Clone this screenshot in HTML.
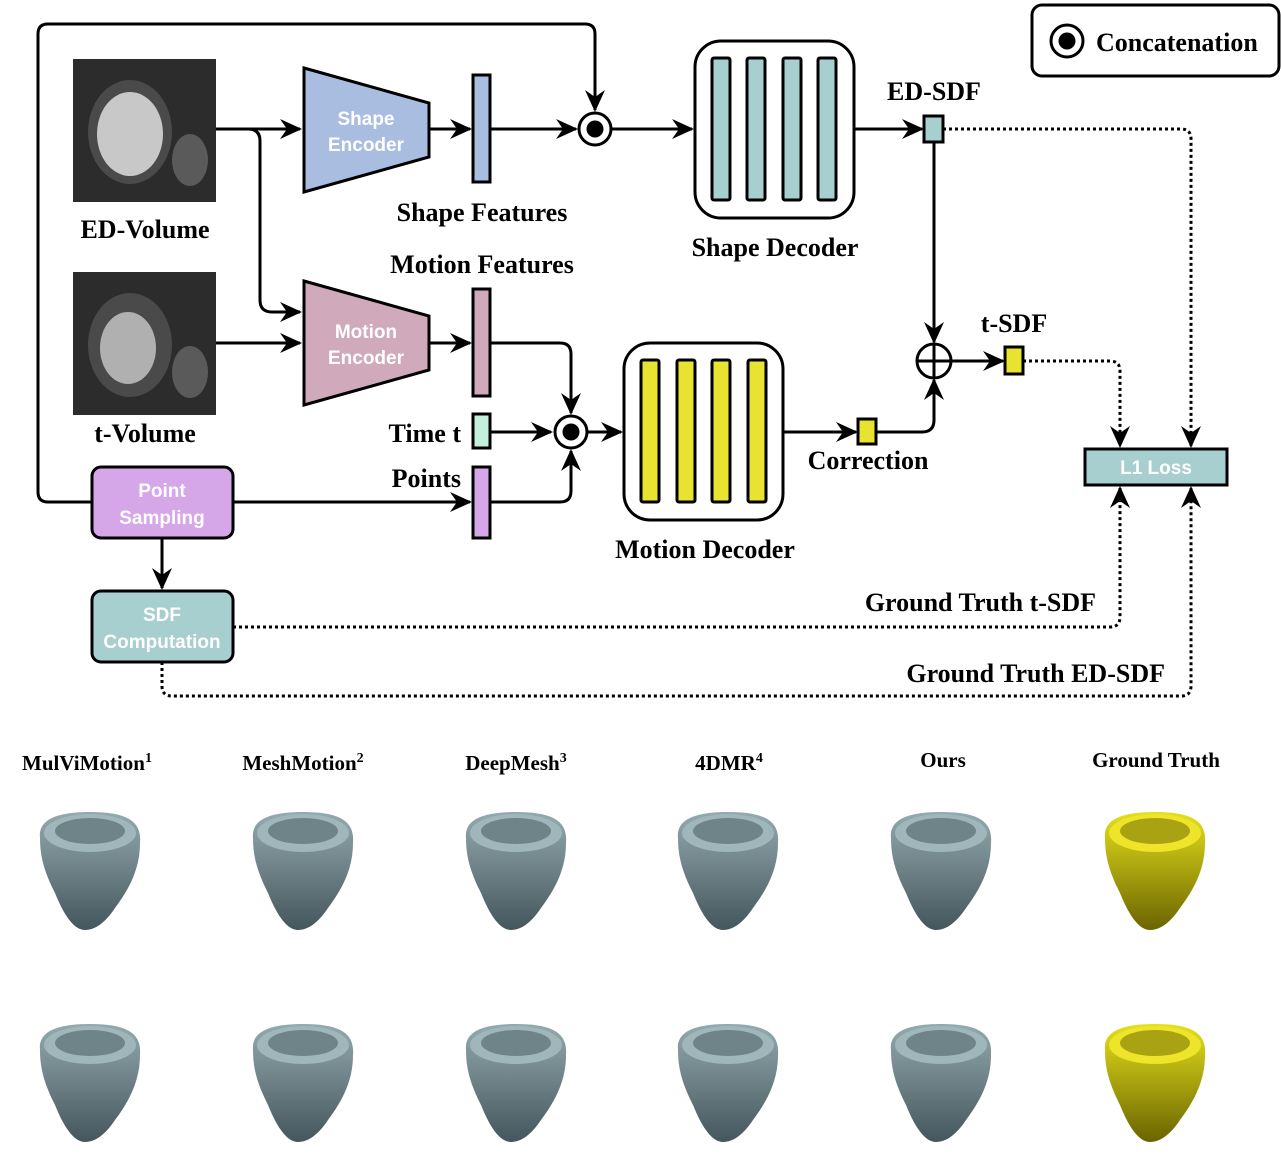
<!DOCTYPE html>
<html><head><meta charset="utf-8"><style>
html,body{margin:0;padding:0;background:#fff;}
svg{display:block;}
.lb{font-family:"Liberation Serif",serif;font-weight:bold;fill:#000;}
.wt{font-family:"Liberation Sans",sans-serif;font-weight:bold;fill:#fff;font-size:19px;}
</style></head><body>
<svg width="1281" height="1165" viewBox="0 0 1281 1165" xmlns="http://www.w3.org/2000/svg">
<defs>
<marker id="a2" markerWidth="22" markerHeight="22" refX="20" refY="11" orient="auto" markerUnits="userSpaceOnUse" viewBox="0 0 22 22">
<path d="M0,1 L22,11 L0,21 L7,11 Z" fill="#000"/></marker>
<linearGradient id="gg" x1="0" y1="0" x2="0" y2="1"><stop offset="0" stop-color="#93aaae"/><stop offset="1" stop-color="#45565d"/></linearGradient>
<linearGradient id="gy" x1="0" y1="0" x2="0" y2="1"><stop offset="0" stop-color="#e5e01c"/><stop offset="1" stop-color="#6a6400"/></linearGradient>
<g id="heart">
<path d="M-50,-30 C-52,-50 -30,-56 0,-56 C35,-56 52,-48 50,-25 C50,0 40,20 25,40 C15,55 5,62 -5,62 C-15,62 -25,50 -35,25 C-45,5 -50,-10 -50,-30 Z"/>
</g>
</defs>

<rect x="73" y="59" width="143" height="143" fill="#2c2c2c"/>
<ellipse cx="130" cy="132" rx="42" ry="52" fill="#4a4a4a"/>
<ellipse cx="130" cy="134" rx="33" ry="42" fill="#c8c8c8"/>
<ellipse cx="190" cy="160" rx="18" ry="26" fill="#5a5a5a"/>
<rect x="73" y="272" width="143" height="143" fill="#2c2c2c"/>
<ellipse cx="130" cy="345" rx="42" ry="52" fill="#4a4a4a"/>
<ellipse cx="128" cy="348" rx="28" ry="36" fill="#b0b0b0"/>
<ellipse cx="190" cy="372" rx="18" ry="26" fill="#5a5a5a"/>

<g stroke="#000" stroke-width="3" fill="none">
<path d="M92,502 H48 Q38,502 38,492 V34 Q38,24 48,24 H585 Q595,24 595,34 V110" marker-end="url(#a2)"/>
<path d="M216,129 H300" marker-end="url(#a2)"/>
<path d="M248,129 Q260,129 260,141 V300 Q260,312 272,312 H300" marker-end="url(#a2)"/>
<path d="M216,343 H300" marker-end="url(#a2)"/>
<path d="M429,129 H470" marker-end="url(#a2)"/>
<path d="M490,129 H576" marker-end="url(#a2)"/>
<path d="M612,129 H692" marker-end="url(#a2)"/>
<path d="M854,129 H922" marker-end="url(#a2)"/>
<path d="M934,142 V342" marker-end="url(#a2)"/>
<path d="M951,361 H1003" marker-end="url(#a2)"/>
<path d="M429,343 H470" marker-end="url(#a2)"/>
<path d="M490,343 H560 Q571,343 571,354 V413" marker-end="url(#a2)"/>
<path d="M490,432 H551" marker-end="url(#a2)"/>
<path d="M233,502 H470" marker-end="url(#a2)"/>
<path d="M490,502 H560 Q571,502 571,491 V451" marker-end="url(#a2)"/>
<path d="M588,432 H621" marker-end="url(#a2)"/>
<path d="M783,432 H856" marker-end="url(#a2)"/>
<path d="M876,432 H922 Q934,432 934,420 V380" marker-end="url(#a2)"/>
<path d="M162,538 V588" marker-end="url(#a2)"/>
</g>
<g stroke="#000" stroke-width="3" fill="none" stroke-dasharray="3,3">
<path d="M943,129 H1181 Q1191,129 1191,139 V446" marker-end="url(#a2)"/>
<path d="M1023,361 H1110 Q1120,361 1120,371 V446" marker-end="url(#a2)"/>
<path d="M233,627 H1110 Q1120,627 1120,617 V488" marker-end="url(#a2)"/>
<path d="M162,662 V686 Q162,696 172,696 H1181 Q1191,696 1191,686 V488" marker-end="url(#a2)"/>
</g>

<polygon points="304,68 429,103 429,157 304,192" fill="#a9bde0" stroke="#000" stroke-width="3"/>
<text class="wt" x="366" y="125" text-anchor="middle">Shape</text>
<text class="wt" x="366" y="151" text-anchor="middle">Encoder</text>
<polygon points="304,281 429,316 429,370 304,405" fill="#d0a9ba" stroke="#000" stroke-width="3"/>
<text class="wt" x="366" y="338" text-anchor="middle">Motion</text>
<text class="wt" x="366" y="364" text-anchor="middle">Encoder</text>

<rect x="473" y="75" width="17" height="107" fill="#a9bde0" stroke="#000" stroke-width="3"/>
<rect x="473" y="289" width="17" height="107" fill="#d0a9ba" stroke="#000" stroke-width="3"/>
<rect x="473" y="414" width="17" height="34" fill="#c3f0dc" stroke="#000" stroke-width="3"/>
<rect x="473" y="467" width="17" height="71" fill="#d5a6e8" stroke="#000" stroke-width="3"/>

<circle cx="595" cy="129" r="16" fill="#fff" stroke="#000" stroke-width="3"/><circle cx="595" cy="129" r="8.5" fill="#000"/>
<circle cx="571" cy="432" r="16" fill="#fff" stroke="#000" stroke-width="3"/><circle cx="571" cy="432" r="8.5" fill="#000"/>
<circle cx="934" cy="361" r="17" fill="#fff" stroke="#000" stroke-width="3"/>
<path d="M917,361 H951 M934,344 V378" stroke="#000" stroke-width="3"/>

<rect x="695" y="41" width="159" height="177" rx="26" fill="#fff" stroke="#000" stroke-width="3"/>
<g fill="#a8cfcf" stroke="#000" stroke-width="3">
<rect x="712" y="58" width="18" height="142" rx="2"/><rect x="747" y="58" width="18" height="142" rx="2"/><rect x="783" y="58" width="18" height="142" rx="2"/><rect x="818" y="58" width="18" height="142" rx="2"/>
</g>
<rect x="624" y="343" width="159" height="177" rx="26" fill="#fff" stroke="#000" stroke-width="3"/>
<g fill="#e8e330" stroke="#000" stroke-width="3">
<rect x="641" y="360" width="18" height="142" rx="2"/><rect x="677" y="360" width="18" height="142" rx="2"/><rect x="712" y="360" width="18" height="142" rx="2"/><rect x="748" y="360" width="18" height="142" rx="2"/>
</g>

<rect x="924" y="116" width="19" height="26" fill="#a8cfcf" stroke="#000" stroke-width="3"/>
<rect x="1005" y="347" width="18" height="27" fill="#e8e330" stroke="#000" stroke-width="3"/>
<rect x="858" y="419" width="18" height="25" fill="#e8e330" stroke="#000" stroke-width="3"/>

<rect x="1085" y="449" width="142" height="36" fill="#a8cfcf" stroke="#000" stroke-width="3"/>
<text class="wt" x="1156" y="474" text-anchor="middle">L1 Loss</text>

<rect x="92" y="467" width="141" height="71" rx="9" fill="#d5a6e8" stroke="#000" stroke-width="3"/>
<text class="wt" x="162" y="497" text-anchor="middle">Point</text>
<text class="wt" x="162" y="524" text-anchor="middle">Sampling</text>
<rect x="92" y="591" width="141" height="71" rx="9" fill="#a8cfcf" stroke="#000" stroke-width="3"/>
<text class="wt" x="162" y="621" text-anchor="middle">SDF</text>
<text class="wt" x="162" y="648" text-anchor="middle">Computation</text>

<rect x="1032" y="5" width="247" height="71" rx="10" fill="#fff" stroke="#000" stroke-width="3"/>
<circle cx="1067" cy="41" r="16" fill="#fff" stroke="#000" stroke-width="3"/><circle cx="1067" cy="41" r="8.5" fill="#000"/>
<text class="lb" x="1096" y="51" font-size="26">Concatenation</text>

<g class="lb" font-size="26">
<text x="145" y="238" text-anchor="middle">ED-Volume</text>
<text x="145" y="442" text-anchor="middle">t-Volume</text>
<text x="482" y="221" text-anchor="middle">Shape Features</text>
<text x="482" y="273" text-anchor="middle">Motion Features</text>
<text x="461" y="442" text-anchor="end">Time t</text>
<text x="461" y="487" text-anchor="end">Points</text>
<text x="775" y="256" text-anchor="middle">Shape Decoder</text>
<text x="705" y="558" text-anchor="middle">Motion Decoder</text>
<text x="934" y="100" text-anchor="middle">ED-SDF</text>
<text x="1014" y="332" text-anchor="middle">t-SDF</text>
<text x="868" y="469" text-anchor="middle">Correction</text>
<text x="1096" y="611" text-anchor="end">Ground Truth t-SDF</text>
<text x="1165" y="682" text-anchor="end">Ground Truth ED-SDF</text>
</g>
<g class="lb" font-size="21">
<text x="87" y="770" text-anchor="middle">MulViMotion<tspan font-size="14" dy="-8">1</tspan></text>
<text x="303" y="770" text-anchor="middle">MeshMotion<tspan font-size="14" dy="-8">2</tspan></text>
<text x="516" y="770" text-anchor="middle">DeepMesh<tspan font-size="14" dy="-8">3</tspan></text>
<text x="729" y="770" text-anchor="middle">4DMR<tspan font-size="14" dy="-8">4</tspan></text>
<text x="943" y="767" text-anchor="middle">Ours</text>
<text x="1156" y="767" text-anchor="middle">Ground Truth</text>
</g>

<g>
<use href="#heart" transform="translate(90,868)" fill="url(#gg)"/>
<use href="#heart" transform="translate(303,868)" fill="url(#gg)"/>
<use href="#heart" transform="translate(516,868)" fill="url(#gg)"/>
<use href="#heart" transform="translate(728,868)" fill="url(#gg)"/>
<use href="#heart" transform="translate(941,868)" fill="url(#gg)"/>
<use href="#heart" transform="translate(1155,868)" fill="url(#gy)"/>
<use href="#heart" transform="translate(90,1080)" fill="url(#gg)"/>
<use href="#heart" transform="translate(303,1080)" fill="url(#gg)"/>
<use href="#heart" transform="translate(516,1080)" fill="url(#gg)"/>
<use href="#heart" transform="translate(728,1080)" fill="url(#gg)"/>
<use href="#heart" transform="translate(941,1080)" fill="url(#gg)"/>
<use href="#heart" transform="translate(1155,1080)" fill="url(#gy)"/>
</g>
<g fill="#9fb7ba">
<ellipse cx="90" cy="833" rx="46" ry="19"/><ellipse cx="303" cy="833" rx="46" ry="19"/><ellipse cx="516" cy="833" rx="46" ry="19"/><ellipse cx="728" cy="833" rx="46" ry="19"/><ellipse cx="941" cy="833" rx="46" ry="19"/>
<ellipse cx="90" cy="1045" rx="46" ry="19"/><ellipse cx="303" cy="1045" rx="46" ry="19"/><ellipse cx="516" cy="1045" rx="46" ry="19"/><ellipse cx="728" cy="1045" rx="46" ry="19"/><ellipse cx="941" cy="1045" rx="46" ry="19"/>
</g>
<g fill="#eee52a"><ellipse cx="1155" cy="833" rx="46" ry="19"/><ellipse cx="1155" cy="1045" rx="46" ry="19"/></g>
<g fill="#6f8489">
<ellipse cx="90" cy="831" rx="35" ry="13"/><ellipse cx="303" cy="831" rx="35" ry="13"/><ellipse cx="516" cy="831" rx="35" ry="13"/><ellipse cx="728" cy="831" rx="35" ry="13"/><ellipse cx="941" cy="831" rx="35" ry="13"/>
<ellipse cx="90" cy="1043" rx="35" ry="13"/><ellipse cx="303" cy="1043" rx="35" ry="13"/><ellipse cx="516" cy="1043" rx="35" ry="13"/><ellipse cx="728" cy="1043" rx="35" ry="13"/><ellipse cx="941" cy="1043" rx="35" ry="13"/>
</g>
<g fill="#a9a212"><ellipse cx="1155" cy="831" rx="35" ry="13"/><ellipse cx="1155" cy="1043" rx="35" ry="13"/></g>
</svg>
</body></html>
